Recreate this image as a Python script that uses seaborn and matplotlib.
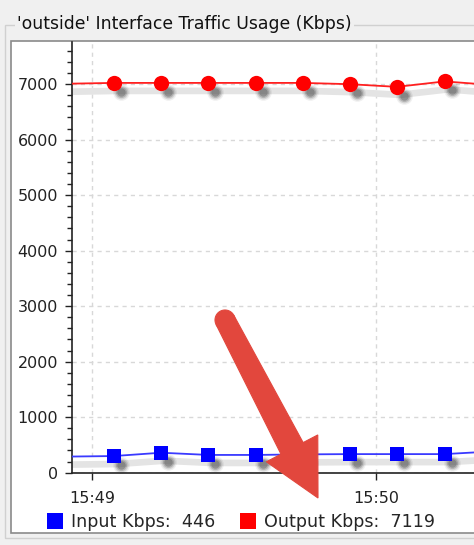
import numpy as np
import pandas as pd
import seaborn as sns
import matplotlib
matplotlib.use("Agg")
import matplotlib.pyplot as plt
from matplotlib import transforms
from matplotlib.patches import Rectangle, Polygon, Circle
from matplotlib.lines import Line2D

# ---------------- data ----------------
title = "'outside' Interface Traffic Usage (Kbps)"
seconds_after_1549 = [-7.5, 4.6, 14.6, 24.6, 34.6, 44.6, 54.4, 64.4, 74.5, 84.5]
input_kbps = [288, 300, 360, 320, 320, 330, 335, 335, 335, 383]
output_kbps = [7005, 7023, 7023, 7023, 7023, 7023, 7000, 6952, 7050, 6985]
x_tick_positions = [0, 60]
x_tick_labels = ["15:49", "15:50"]
legend_labels = ["Input Kbps:  446", "Output Kbps:  7119"]
series_colors = ["#0000ff", "#ff0000"]

df = pd.DataFrame({"t": seconds_after_1549, "inp": input_kbps, "out": output_kbps})

W, H = 474, 545
sns.set_theme(style="white")
plt.rcParams["font.family"] = ["DejaVu Sans"]
fig = plt.figure(figsize=(W / 100, H / 100), dpi=100)
fig.patch.set_facecolor("#f0f0f0")

px = transforms.IdentityTransform()

def r(x, y, w, h, **kw):
    # image coords (top-left origin) -> display
    fig.add_artist(Rectangle((x, H - y - h), w, h, transform=px, **kw))

# group box and white panel (behind the axes)
r(5, 25, 480, 513, facecolor="none", edgecolor="#d0d0d0", lw=1, zorder=-10)
r(11, 41, 480, 492, facecolor="white", edgecolor="#8a8a8a", lw=1.2, zorder=-9)
fig.text(17 / W, 1 - 24 / H, title, ha="left", va="center", fontsize=12.4,
         family="DejaVu Sans", color="#111111",
         bbox=dict(facecolor="#f0f0f0", edgecolor="none", pad=1.5))

ax = fig.add_axes([72 / W, 72.3 / H, (W - 72) / W, (503 - 72.3) / H])
ax.set_facecolor("none")

# shadows
sh_band = transforms.offset_copy(ax.transData, fig=fig, x=3, y=-8, units="dots")
sh_mark = transforms.offset_copy(ax.transData, fig=fig, x=7, y=-9, units="dots")
for col in ["inp", "out"]:
    mk = "o" if col == "out" else "s"
    sns.lineplot(data=df, x="t", y=col, ax=ax, color="#e4e4e4", lw=4.8,
                 errorbar=None, zorder=1)
    ax.lines[-1].set_transform(sh_band)
    for ms, a in [(12, 0.08), (10, 0.15), (8, 0.22), (6, 0.3)]:
        sns.lineplot(data=df, x="t", y=col, ax=ax, color="#404040", lw=0,
                     marker="o", markersize=ms, markeredgewidth=0, alpha=a,
                     errorbar=None, zorder=2)
        ax.lines[-1].set_transform(sh_mark)

sns.lineplot(data=df, x="t", y="inp", ax=ax, color="#3a3aff", lw=1.3,
             marker="s", markersize=10.5, markeredgewidth=0,
             markerfacecolor=series_colors[0], errorbar=None, zorder=3)
sns.lineplot(data=df, x="t", y="out", ax=ax, color="#ff2020", lw=1.3,
             marker="o", markersize=11, markeredgewidth=0,
             markerfacecolor=series_colors[1], errorbar=None, zorder=3)

ax.set_xlim(-4.23, 80.7)
ax.set_ylim(0, 7760)
ax.set_xticks(x_tick_positions)
ax.set_xticklabels(x_tick_labels)
ax.set_yticks(np.arange(0, 7001, 1000))
ax.set_yticks(np.arange(0, 7761, 200), minor=True)
ax.set_xlabel("")
ax.set_ylabel("")
ax.grid(True, which="major", color="#d8d8d8", ls=(0, (3, 3)), lw=1)
ax.set_axisbelow(True)
for s in ["top", "right"]:
    ax.spines[s].set_visible(False)
for s in ["left", "bottom"]:
    ax.spines[s].set_color("#222222")
    ax.spines[s].set_linewidth(1.2)
ax.tick_params(axis="y", which="major", left=True, length=5, width=1, color="#222222",
               labelsize=11.5, labelcolor="#222222", pad=5)
ax.tick_params(axis="y", which="minor", left=True, length=3.5, width=1, color="#222222")
ax.tick_params(axis="x", which="major", bottom=True, length=5, width=1, color="#222222",
               labelsize=11.5, labelcolor="#222222", pad=8)

# legend
handles = [Line2D([], [], marker="s", ls="", markersize=11, markeredgewidth=0,
                  color=c) for c in series_colors]
fig.legend(handles, legend_labels, loc="center left",
           bbox_to_anchor=(40 / W, 1 - 522 / H), ncol=2, frameon=False,
           fontsize=12.6, handlelength=0.9, handletextpad=0.45, columnspacing=1.45,
           borderaxespad=0)

# annotation arrow (image coords)
tail = np.array([225, 320])
tip = np.array([318, 498])
d = tip - tail
u = d / np.linalg.norm(d)
n = np.array([-u[1], u[0]])
head_len, head_w = 56, 58
w_tail, w_base = 20, 25
base = tip - u * head_len
arrow_color = "#e2473d"
shape = [tail + n * w_tail / 2, base + n * w_base / 2, base + n * head_w / 2, tip,
         base - n * head_w / 2, base - n * w_base / 2, tail - n * w_tail / 2]
fig.add_artist(Polygon([(p[0], H - p[1]) for p in shape], closed=True, transform=px,
                       facecolor=arrow_color, edgecolor=arrow_color, lw=0.8, zorder=10))
fig.add_artist(Circle((tail[0], H - tail[1]), w_tail / 2, transform=px,
                      facecolor=arrow_color, edgecolor=arrow_color, lw=0.8, zorder=10))

fig.savefig("out.png", dpi=100, facecolor=fig.get_facecolor())
